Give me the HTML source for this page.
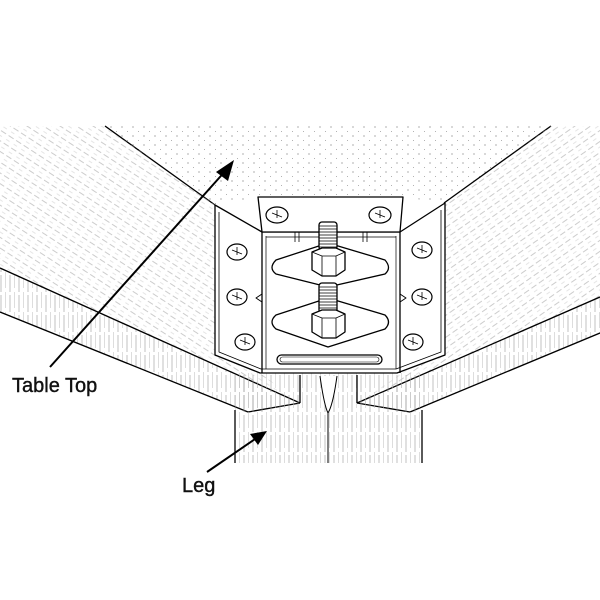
<!DOCTYPE html>
<html><head><meta charset="utf-8"><style>html,body{margin:0;padding:0;background:#fff}svg{display:block}</style></head>
<body>
<svg width="600" height="600" viewBox="0 0 600 600" xmlns="http://www.w3.org/2000/svg">
<defs>
<pattern id="dots" width="11" height="9" patternUnits="userSpaceOnUse">
<circle cx="1" cy="1" r="0.6" fill="#777"/><circle cx="6.5" cy="5.5" r="0.5" fill="#999"/>
</pattern>
<pattern id="hatchL" width="9" height="9" patternUnits="userSpaceOnUse" patternTransform="rotate(33)">
<line x1="0" y1="1" x2="9" y2="1" stroke="#aaa" stroke-width="0.6" stroke-dasharray="6 3"/>
<line x1="0" y1="5.5" x2="9" y2="5.5" stroke="#ccc" stroke-width="0.5" stroke-dasharray="4 5"/>
</pattern>
<pattern id="hatchR" width="9" height="9" patternUnits="userSpaceOnUse" patternTransform="rotate(-35)">
<line x1="0" y1="1" x2="9" y2="1" stroke="#aaa" stroke-width="0.6" stroke-dasharray="6 3"/>
<line x1="0" y1="5.5" x2="9" y2="5.5" stroke="#ccc" stroke-width="0.5" stroke-dasharray="4 5"/>
</pattern>
<pattern id="vert" width="9" height="20" patternUnits="userSpaceOnUse">
<line x1="1" y1="0" x2="1" y2="20" stroke="#999" stroke-width="0.6" stroke-dasharray="12 3"/>
<line x1="5.5" y1="0" x2="5.5" y2="20" stroke="#bbb" stroke-width="0.5" stroke-dasharray="8 4"/>
</pattern>
</defs>
<g stroke="#000" stroke-width="1.3" fill="none" stroke-linejoin="round">
<polygon points="105,126 551,126 444,203 403,197 258,197 215,205" fill="url(#dots)" stroke="none"/>
<line x1="105" y1="126" x2="215" y2="205"/>
<line x1="551" y1="126" x2="444" y2="203"/>
<polygon points="0,126 105,126 215,205 215,355 260,373 300,403 0,268" fill="url(#hatchL)" stroke="none"/>
<polygon points="551,126 600,126 600,297 357,403 400,373 445,355 445,203" fill="url(#hatchR)" stroke="none"/>
<polygon points="0,268 300,403 248,412 0,312" fill="url(#vert)" stroke="none"/>
<polygon points="600,297 357,403 410,412 600,333" fill="url(#vert)" stroke="none"/>
<line x1="0" y1="268" x2="300" y2="403"/>
<line x1="0" y1="312" x2="248" y2="412"/>
<line x1="248" y1="412" x2="300" y2="403"/>
<line x1="600" y1="297" x2="357" y2="403"/>
<line x1="600" y1="333" x2="410" y2="412"/>
<line x1="410" y1="412" x2="357" y2="403"/>
<rect x="235" y="373" width="187" height="90" fill="url(#vert)" stroke="none"/>
<line x1="235" y1="410" x2="235" y2="463"/>
<line x1="422" y1="410" x2="422" y2="463"/>
<line x1="300" y1="375" x2="300" y2="403"/>
<line x1="357" y1="375" x2="357" y2="403"/>
<path d="M320,376 Q324,405 328,413 Q333,405 337,376" fill="#fff" stroke-width="1"/>
<line x1="328" y1="413" x2="328" y2="463" stroke-width="1"/>
<path d="M215,205 L215,355 L260,373 L397,373 L445,355 L445,203 L400,232 L262,232 Z" fill="#fff"/>
<path d="M258,197 L403,197 L400,232 L262,232 Z" fill="#fff"/>
<path d="M219,212 L219,352 L261,369 L396,369 L441,352 L441,210" stroke-width="0.8"/>
<line x1="262" y1="232" x2="262" y2="373"/>
<line x1="400" y1="232" x2="400" y2="373"/>
<line x1="266" y1="236" x2="266" y2="369" stroke-width="0.7"/>
<line x1="396" y1="236" x2="396" y2="369" stroke-width="0.7"/>
<path d="M262,294 L256,298 L262,302" stroke-width="1"/>
<path d="M400,294 L406,298 L400,302" stroke-width="1"/>
<line x1="266" y1="237" x2="396" y2="237" stroke-width="0.8"/>
<line x1="295" y1="232" x2="295" y2="242" stroke-width="0.8"/><line x1="299" y1="232" x2="299" y2="242" stroke-width="0.8"/>
<line x1="363" y1="232" x2="363" y2="242" stroke-width="0.8"/><line x1="367" y1="232" x2="367" y2="242" stroke-width="0.8"/>
<g fill="#fff" stroke-width="1.2">
<ellipse cx="277" cy="215" rx="11" ry="8"/><ellipse cx="380" cy="215" rx="11" ry="8"/>
<ellipse cx="237" cy="252" rx="10" ry="8"/><ellipse cx="237" cy="297" rx="10" ry="8"/><ellipse cx="245" cy="342" rx="10" ry="8"/>
<ellipse cx="422" cy="250" rx="10" ry="8"/><ellipse cx="422" cy="297" rx="10" ry="8"/><ellipse cx="413" cy="342" rx="10" ry="8"/>
</g>
<g stroke-width="0.8">
<path d="M272,213 l10,4 M277,210 l0,8"/><path d="M375,213 l10,4 M380,210 l0,8"/>
<path d="M232,250 l10,4 M237,247 l0,8"/><path d="M232,295 l10,4 M237,292 l0,8"/><path d="M240,340 l10,4 M245,337 l0,8"/>
<path d="M417,248 l10,4 M422,245 l0,8"/><path d="M417,295 l10,4 M422,292 l0,8"/><path d="M408,340 l10,4 M413,337 l0,8"/>
</g>
<path d="M328,243 L385,260 Q392,268 385,274 L328,287 L276,274 Q268,268 276,260 Z" fill="#fff"/>
<path d="M328,298 L385,315 Q392,322 385,329 L328,347 L276,329 Q268,322 276,315 Z" fill="#fff"/>
<rect x="319" y="222" width="18" height="28" rx="3" fill="#fff"/>
<g stroke-width="0.7"><path d="M319,226h18M319,229h18M319,232h18M319,235h18M319,238h18M319,241h18M319,244h18M319,247h18"/></g>
<path d="M312,252 L322,248 L336,248 L345,252 L345,270 L336,276 L322,276 L312,270 Z" fill="#fff"/>
<path d="M322,256 L336,256 M322,256 L322,276 M336,256 L336,276 M312,252 L322,256 M345,252 L336,256" stroke-width="0.8"/>
<rect x="319" y="283" width="18" height="30" rx="3" fill="#fff"/>
<g stroke-width="0.7"><path d="M319,287h18M319,290h18M319,293h18M319,296h18M319,299h18M319,302h18M319,305h18M319,308h18"/></g>
<path d="M312,314 L322,310 L336,310 L345,314 L345,332 L336,338 L322,338 L312,332 Z" fill="#fff"/>
<path d="M322,318 L336,318 M322,318 L322,338 M336,318 L336,338 M312,314 L322,318 M345,314 L336,318" stroke-width="0.8"/>
<rect x="277" y="355" width="105" height="9" rx="4.5" fill="#fff"/>
<rect x="280" y="357" width="99" height="5" rx="2.5" stroke-width="0.6"/>
<line x1="50" y1="367" x2="228" y2="168" stroke-width="2"/>
<line x1="207" y1="472" x2="258" y2="437" stroke-width="2"/>
</g>
<polygon points="234,160 216,172 228,181" fill="#000"/>
<polygon points="267,431 250,434 258,445" fill="#000"/>
<text x="12" y="392" font-family="Liberation Sans, sans-serif" font-size="20" fill="#111" stroke="#111" stroke-width="0.4">Table Top</text>
<text x="182" y="492" font-family="Liberation Sans, sans-serif" font-size="20" fill="#111" stroke="#111" stroke-width="0.4">Leg</text>
</svg>
</body></html>
